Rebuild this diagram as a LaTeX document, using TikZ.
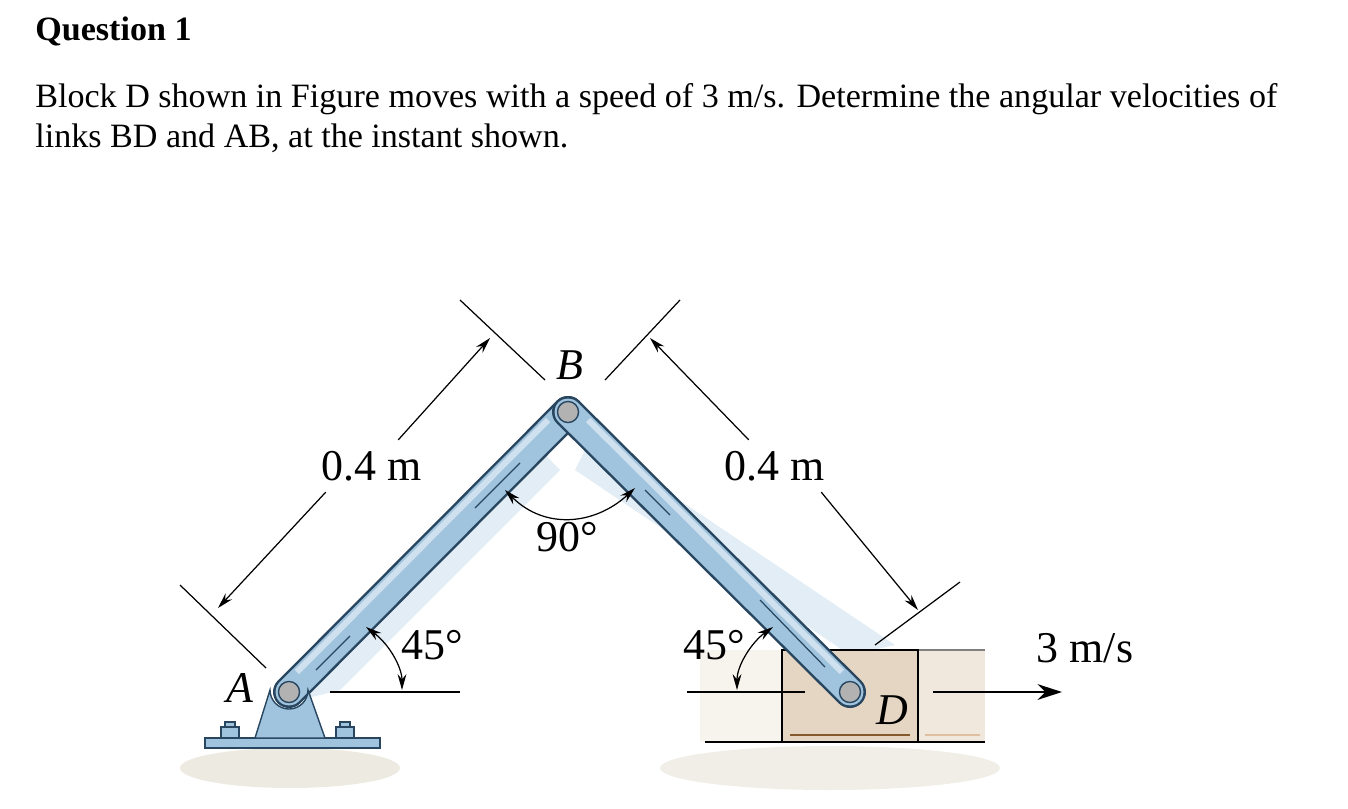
\documentclass[tikz,border=0pt]{standalone}
\usepackage{fontspec}
\setmainfont{Liberation Serif}
\usetikzlibrary{arrows.meta,calc}
\definecolor{linkblue}{RGB}{160,196,222}
\definecolor{linkdark}{RGB}{40,70,95}
\definecolor{ghost}{RGB}{190,215,232}
\definecolor{blockc}{RGB}{228,214,194}
\definecolor{blockl}{RGB}{240,232,220}
\definecolor{groundc}{RGB}{225,222,205}
\tikzset{
  dim/.style={line width=0.7pt,black},
  dimarrow/.style={line width=0.7pt,-{Stealth[length=9pt,width=5pt]}},
  lbl/.style={font=\fontsize{25}{27}\selectfont},
  ilbl/.style={font=\itshape\fontsize{25}{27}\selectfont},
  txt/.style={font=\fontsize{19.4}{22}\selectfont,anchor=base west,inner sep=0pt},
  pin/.style={circle,draw=linkdark,fill=gray!60,inner sep=0pt,minimum size=12pt,line width=0.8pt}
}
\begin{document}
\begin{tikzpicture}[x=0.02cm,y=-0.02cm]
\useasboundingbox (0,0) rectangle (1348,808);
% texts
\node[txt,font=\bfseries\fontsize{19.4}{22}\selectfont] (q) at (35,40) {Question 1};
\node[txt] (l1) at (35,107) {Block D shown in Figure moves with a speed of 3 m/s. Determine the angular velocities of};
\node[txt] (l2) at (35,147) {links BD and AB, at the instant shown.};
% coordinates
\coordinate (A) at (289,692);
\coordinate (B) at (568,412);
\coordinate (D) at (850,692);
% ground shadows
\fill[groundc,opacity=0.6] (290,768) ellipse (110 and 20);
\fill[groundc,opacity=0.5] (830,768) ellipse (170 and 22);
\fill[blockl,opacity=0.5] (700,650) rectangle (782,742);
% ghost shadows
\fill[ghost,opacity=0.45] (590,440) -- (895,645) -- (850,655) -- (575,470) -- cycle;
\fill[ghost,opacity=0.45] (560,470) -- (340,690) -- (300,700) -- (540,450) -- cycle;
% block D
\fill[blockl] (918,650) rectangle (985,742);
\draw[gray,line width=0.8pt] (918,650) -- (985,650);
\draw[fill=blockc,line width=0.9pt] (782,650) rectangle (918,742);
\draw[brown!70!black,line width=1pt] (790,735) -- (910,735);
\draw[brown!50,line width=1pt] (925,735) -- (980,735);
\draw[line width=1pt] (705,742) -- (985,742);
% link AB
\draw[linkdark,line width=0.64cm,line cap=round] (A) -- (B);
\draw[linkblue,line width=0.54cm,line cap=round] (A) -- (B);
\draw[white,opacity=0.5,line width=0.12cm] ($(A)!0.05!(B)+(-6,-6)$) -- ($(A)!0.95!(B)+(-6,-6)$);
% link BD
\draw[linkdark,line width=0.64cm,line cap=round] (B) -- (D);
\draw[linkblue,line width=0.54cm,line cap=round] (B) -- (D);
\draw[white,opacity=0.5,line width=0.12cm] ($(B)!0.05!(D)+(6,-6)$) -- ($(B)!0.95!(D)+(6,-6)$);
% center lines on links
\draw[linkdark,line width=0.7pt] (316,670) -- (350,636);
\draw[linkdark,line width=0.7pt] (475,508) -- (520,463);
\draw[linkdark,line width=0.7pt] (645,490) -- (670,515);
\draw[linkdark,line width=0.7pt] (760,600) -- (825,667);
% support at A (over the link end)
\draw[fill=linkblue,draw=linkdark,line width=0.8pt] (205,738) rectangle (380,748);
\draw[fill=linkblue,draw=linkdark,line width=0.8pt] (255,738) -- (270,690) arc (180:0:19) -- (325,738) -- cycle;
\foreach \bx in {230,345}{
  \draw[fill=linkblue,draw=linkdark,line width=0.6pt] (\bx-9,738) rectangle (\bx+9,727);
  \draw[fill=linkblue,draw=linkdark,line width=0.6pt] (\bx-5,727) rectangle (\bx+5,722);
}
% pins
\node[pin] (pA) at (A) {};
\node[pin] (pB) at (B) {};
\node[pin] (pD) at (D) {};
% labels
\node[ilbl] (la) at (240,688) {A};
\node[ilbl] (lb) at (570,365) {B};
\node[ilbl] (ld) at (892,710) {D};
% left dimension
\coordinate (e1a) at (180,585); \coordinate (e1b) at (266,668);
\coordinate (e2a) at (460,300); \coordinate (e2b) at (545,380);
\draw[dim] (e1a) -- (e1b);
\draw[dim] (e2a) -- (e2b);
\coordinate (d1a) at (218,608); \coordinate (d1b) at (490,338);
\node[lbl] (m1) at (372,466) {0.4 m};
\draw[dimarrow] (m1.north east) ++(-30,-5) coordinate (m1a) -- (d1b);
\draw[dimarrow] (m1.south west) ++(10,5) coordinate (m1b) -- (d1a);
% right dimension
\coordinate (e3a) at (605,380); \coordinate (e3b) at (680,300);
\coordinate (e4a) at (875,645); \coordinate (e4b) at (960,582);
\draw[dim] (e3a) -- (e3b);
\draw[dim] (e4a) -- (e4b);
\coordinate (d2a) at (650,338); \coordinate (d2b) at (918,610);
\node[lbl] (m2) at (775,466) {0.4 m};
\draw[dimarrow] (m2.north west) ++(30,-5) coordinate (m2a) -- (d2a);
\draw[dimarrow] (m2.south east) ++(-10,5) coordinate (m2b) -- (d2b);
% 90 deg
\draw[line width=0.7pt,{Stealth[length=9pt,width=5pt]}-{Stealth[length=9pt,width=5pt]}] (505,490) .. controls (545,530) and (595,525) .. (635,488);
\node[lbl] (a90) at (567,537) {90°};
% 45 at A
\coordinate (hA) at (460,692);
\draw[dim] (330,692) -- (hA);
\draw[line width=0.7pt,{Stealth[length=9pt,width=5pt]}-{Stealth[length=9pt,width=5pt]}] (366,627) .. controls (390,645) and (402,668) .. (402,690);
\node[lbl] (a45a) at (432,645) {45°};
% 45 at D
\coordinate (hD) at (687,692);
\draw[dim] (hD) -- (805,692);
\draw[line width=0.7pt,{Stealth[length=9pt,width=5pt]}-{Stealth[length=9pt,width=5pt]}] (737,690) .. controls (737,665) and (752,642) .. (773,627);
\node[lbl] (a45d) at (714,645) {45°};
% velocity arrow
\coordinate (v0) at (933,692); \coordinate (v1) at (1062,692);
\draw[line width=1.2pt,-{Stealth[length=14pt,width=9pt]}] (v0) -- (v1);
\node[lbl] (vl) at (1085,648) {3 m/s};
\end{tikzpicture}
\end{document}
